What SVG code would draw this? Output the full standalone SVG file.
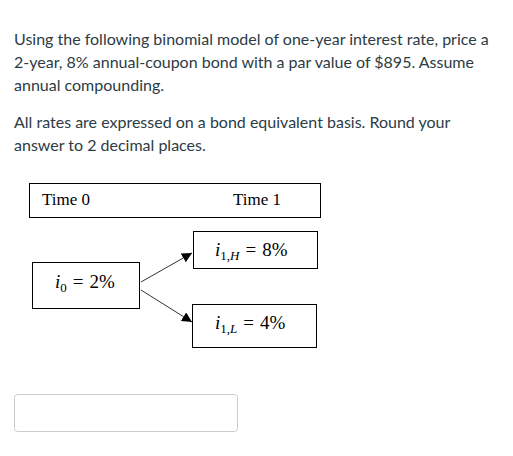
<svg xmlns="http://www.w3.org/2000/svg" width="513" height="456" viewBox="0 0 513 456">
<defs>
<marker id="ah" viewBox="0 0 10 10" refX="10" refY="5" markerWidth="10" markerHeight="10" markerUnits="userSpaceOnUse" orient="auto">
<path d="M0,0 L10,5 L0,10 z" fill="#000"/>
</marker>
<style>
.q{font-family:Lato,"Liberation Sans",sans-serif;font-size:16px;fill:#2d3b45}
.box{fill:#fff;stroke:#000;stroke-width:1}
.tm{font-family:"Liberation Serif",serif;font-size:17px;fill:#000}
.m{font-family:"Liberation Serif",serif;font-size:19px;fill:#000}
.mi{font-style:italic}
.sub{font-size:13px}
.si{font-style:italic}
.c{stroke:#333;stroke-width:1;fill:none;marker-end:url(#ah)}
</style>
</defs>
<rect width="513" height="456" fill="#fff"/>
<g id="question">
<text class="q" x="14" y="45">Using the following binomial model of one-year interest rate, price a</text>
<text class="q" x="14" y="68">2-year, 8% annual-coupon bond with a par value of $895. Assume</text>
<text class="q" x="14" y="91">annual compounding.</text>
<text class="q" x="14" y="128">All rates are expressed on a bond equivalent basis. Round your</text>
<text class="q" x="14" y="151">answer to 2 decimal places.</text>
</g>
<g id="time-header">
<rect class="box" x="29.5" y="183.5" width="291" height="34"/>
<text class="tm" x="42" y="205">Time 0</text>
<text class="tm" x="233" y="205">Time 1</text>
</g>
<g id="node-i0">
<rect class="box" x="32.5" y="262.5" width="107" height="46"/>
<text class="m" x="55" y="288"><tspan class="mi">i</tspan><tspan class="sub" dy="4">0</tspan><tspan dy="-4" dx="6">=</tspan><tspan dx="6">2%</tspan></text>
</g>
<g id="node-i1H">
<rect class="box" x="193.5" y="231.5" width="124" height="37"/>
<text class="m" x="215" y="256"><tspan class="mi">i</tspan><tspan class="sub" dy="4">1,<tspan class="si">H</tspan></tspan><tspan dy="-4" dx="6">=</tspan><tspan dx="6">8%</tspan></text>
</g>
<g id="node-i1L">
<rect class="box" x="192.5" y="304.5" width="124" height="43"/>
<text class="m" x="215" y="329"><tspan class="mi">i</tspan><tspan class="sub" dy="4">1,<tspan class="si">L</tspan></tspan><tspan dy="-4" dx="6">=</tspan><tspan dx="6">4%</tspan></text>
</g>
<g id="connectors">
<line class="c" x1="141" y1="282" x2="192" y2="253"/>
<line class="c" x1="141" y1="290" x2="192" y2="322"/>
</g>
<g id="answer">
<rect x="14.5" y="394.5" width="223" height="37" rx="3" fill="#fff" stroke="#c7cdd1"/>
</g>
</svg>
